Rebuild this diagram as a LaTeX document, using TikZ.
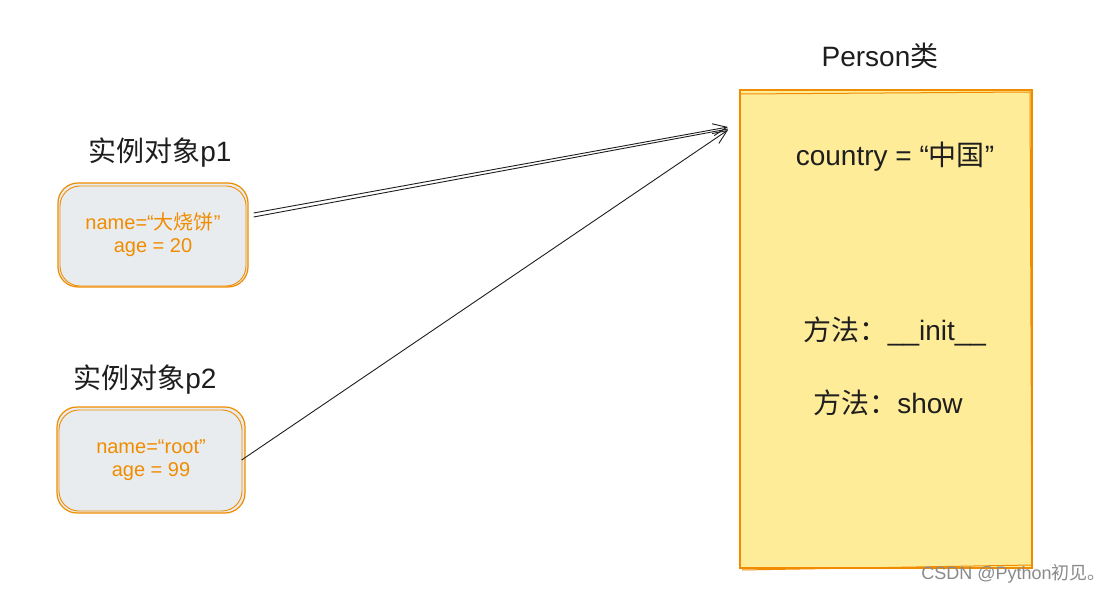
\documentclass[tikz,border=0pt]{standalone}
\usepackage{fontspec}
\setmainfont{Liberation Sans}
\newfontfamily\cjk{Noto Sans CJK SC}
\usetikzlibrary{arrows.meta}
\definecolor{sketchorange}{HTML}{F08C00}
\definecolor{boxgray}{HTML}{E9ECEF}
\definecolor{boxyellow}{HTML}{FFEC99}
\definecolor{inkdark}{HTML}{1E1E1E}
\definecolor{wmgray}{HTML}{8A8A8A}
\tikzset{
  objbox/.style={draw=sketchorange, fill=boxgray, line width=0.6pt, rounded corners=10pt,
    text=sketchorange, align=center, font=\fontsize{10}{11.5}\selectfont, inner sep=0pt},
  classbox/.style={draw=sketchorange, fill=boxyellow, line width=0.6pt, inner sep=0pt},
  title/.style={text=inkdark, font=\fontsize{14}{16}\selectfont, inner sep=0pt},
  member/.style={text=inkdark, font=\fontsize{14}{16}\selectfont, inner sep=0pt},
  sketchline/.style={draw=inkdark, line width=0.45pt},
  arrowline/.style={sketchline, -{Straight Barb[length=7pt,width=6pt,line width=0.45pt]}},
  watermark/.style={text=wmgray, font=\fontsize{9}{10}\selectfont, inner sep=0pt},
}
\begin{document}
\begin{tikzpicture}[x=0.5pt,y=-0.5pt]
\useasboundingbox (0,0) rectangle (1114,593);
\fill[white] (0,0) rectangle (1114,593);

% class box
\node[classbox, minimum width=146pt, minimum height=239pt] (person) at (886,329) {};
\draw[sketchorange, line width=0.5pt] (741,94) -- (1030,92) -- (1032,565) -- (742,570);
\node[title] (ptitle) at (880,56) {Person{\cjk 类}};
\node[member] (country) at (895,157) {country = “{\cjk 中国}”};
\node[member] (init) at (895,331) {{\cjk 方法：}\_\_init\_\_};
\node[member] (show) at (888,403) {{\cjk 方法：}show};

% object boxes
\node[title] (l1) at (160,153) {{\cjk 实例对象}p1};
\node[objbox, minimum width=95pt, minimum height=52pt] (p1) at (153,235)
  {name=“{\cjk 大烧饼}”\\age = 20};
\draw[sketchorange, line width=0.45pt, rounded corners=10pt] (60,186) rectangle (246,286);

\node[title] (l2) at (145,380) {{\cjk 实例对象}p2};
\node[objbox, minimum width=94pt, minimum height=53pt] (p2) at (151,460)
  {name=“root”\\age = 99};
\draw[sketchorange, line width=0.45pt, rounded corners=10pt] (59,410) rectangle (242,511);

% arrows
\coordinate (tip1) at (728,127);
\coordinate (tip2) at (728,130);
\draw[arrowline] ([shift={(2.5pt,11pt)}]p1.east) -- (tip1);
\draw[sketchline] ([shift={(2.5pt,9pt)}]p1.east) -- ([yshift=-1pt]tip1);
\draw[arrowline] ([shift={(-2pt,0pt)}]p2.east) -- (tip2);

\node[watermark, anchor=east] (wm) at (1106,574) {CSDN @Python{\cjk 初见。}};
\end{tikzpicture}
\end{document}
